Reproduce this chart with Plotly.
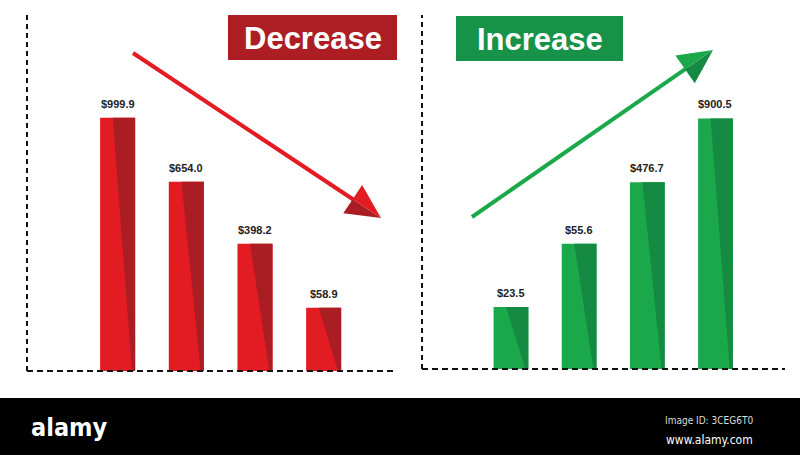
import plotly.graph_objects as go

# bar heights as drawn (units of the illustration's grid) and the printed values
decrease_heights = [4.0, 2.99, 2.01, 1.0]
decrease_labels = ["$999.9", "$654.0", "$398.2", "$58.9"]
increase_heights = [0.99, 2.0, 2.98, 4.0]
increase_labels = ["$23.5", "$55.6", "$476.7", "$900.5"]

red_light = "#E31B23"
red_dark = "#AA1D23"
green_light = "#1BA84A"
green_dark = "#158A42"

W, H = 800, 455
BAR_W = 0.51


def px(x):
    return x / W


def py(y):
    return 1 - y / H


def shade_trace(heights, color, xa, ya):
    # darker diagonal slice on the right side of each bar
    xs, ys = [], []
    for i, h in enumerate(heights):
        c = i + 1
        left = c - BAR_W / 2
        right = c + BAR_W / 2
        xs += [left + 0.36 * BAR_W, right, right, left + 0.91 * BAR_W, left + 0.36 * BAR_W, None]
        ys += [h, h, 0, 0, h, None]
    return go.Scatter(x=xs, y=ys, fill="toself", fillcolor=color, mode="lines",
                      line=dict(width=0), hoverinfo="skip", showlegend=False,
                      xaxis=xa, yaxis=ya)


fig = go.Figure()

pos = list(range(1, len(decrease_heights) + 1))
fig.add_trace(go.Bar(x=pos, y=decrease_heights, width=BAR_W, marker_color=red_light,
                     marker_line_width=0, showlegend=False, xaxis="x", yaxis="y"))
fig.add_trace(shade_trace(decrease_heights, red_dark, "x", "y"))
fig.add_trace(go.Bar(x=pos, y=increase_heights, width=BAR_W, marker_color=green_light,
                     marker_line_width=0, showlegend=False, xaxis="x2", yaxis="y2"))
fig.add_trace(shade_trace(increase_heights, green_dark, "x2", "y2"))

label_font = dict(size=11, color="#222222", family="Liberation Sans, Arial")
annotations = []
for i, (h, t) in enumerate(zip(decrease_heights, decrease_labels)):
    annotations.append(dict(x=i + 1, y=h, xref="x", yref="y", text="<b>" + t + "</b>",
                            showarrow=False, xanchor="center", yanchor="bottom", yshift=6,
                            font=label_font))
for i, (h, t) in enumerate(zip(increase_heights, increase_labels)):
    annotations.append(dict(x=i + 1, y=h, xref="x2", yref="y2", text="<b>" + t + "</b>",
                            showarrow=False, xanchor="center", yanchor="bottom", yshift=6,
                            font=label_font))

shapes = []
# dashed axes
for xd, yd in [("x domain", "y domain"), ("x2 domain", "y2 domain")]:
    shapes.append(dict(type="line", xref=xd, yref=yd, x0=0, x1=0, y0=0, y1=1,
                       line=dict(color="#111111", width=2, dash="5px,4px")))
    shapes.append(dict(type="line", xref=xd, yref=yd, x0=0, x1=1, y0=0, y1=0,
                       line=dict(color="#111111", width=2, dash="6px,4px")))

# title boxes
shapes.append(dict(type="rect", xref="paper", yref="paper", x0=px(228), x1=px(397),
                   y0=py(60), y1=py(15), fillcolor="#AC1E24", line=dict(width=0)))
shapes.append(dict(type="rect", xref="paper", yref="paper", x0=px(456), x1=px(623),
                   y0=py(61), y1=py(16), fillcolor="#179249", line=dict(width=0)))
title_font = dict(size=31, color="white", family="Liberation Sans, Arial")
annotations.append(dict(x=px(313), y=py(38), xref="paper", yref="paper", text="<b>Decrease</b>",
                        showarrow=False, xanchor="center", yanchor="middle", font=title_font))
annotations.append(dict(x=px(540), y=py(39), xref="paper", yref="paper", text="<b>Increase</b>",
                        showarrow=False, xanchor="center", yanchor="middle", font=title_font))


def arrow(x0, y0, tip_x, tip_y, light, dark, head=34, half=17):
    dx, dy = tip_x - x0, tip_y - y0
    L = (dx * dx + dy * dy) ** 0.5
    ux, uy = dx / L, dy / L
    bx, by = tip_x - head * ux, tip_y - head * uy
    nx, ny = -uy, ux
    c1 = (bx + half * nx, by + half * ny)
    c2 = (bx - half * nx, by - half * ny)
    out = [dict(type="line", xref="paper", yref="paper", x0=px(x0), y0=py(y0),
                x1=px(bx + 2 * ux), y1=py(by + 2 * uy), line=dict(color=light, width=4))]

    def tri(a, b, col):
        path = "M {},{} L {},{} L {},{} Z".format(px(tip_x), py(tip_y), px(a[0]), py(a[1]),
                                                 px(b[0]), py(b[1]))
        return dict(type="path", xref="paper", yref="paper", path=path, fillcolor=col,
                    line=dict(width=0))
    out.append(tri(c1, (bx, by), dark))
    out.append(tri(c2, (bx, by), light))
    return out


shapes += arrow(133, 53, 381, 218, red_light, red_dark)
shapes += arrow(472, 217, 713, 50, green_light, green_dark)

# black footer band
shapes.append(dict(type="rect", xref="paper", yref="paper", x0=0, x1=1, y0=0, y1=py(398),
                   fillcolor="black", line=dict(width=0), layer="above"))
annotations.append(dict(x=px(29), y=py(427), xref="paper", yref="paper", text="<b>alamy</b>",
                        showarrow=False, xanchor="left", yanchor="middle",
                        font=dict(size=25, color="white",
                                  family="DejaVu Sans Condensed, Liberation Sans Narrow, Liberation Sans")))
annotations.append(dict(x=px(755), y=py(420), xref="paper", yref="paper", text="Image ID: 3CEG6T0",
                        showarrow=False, xanchor="right", yanchor="middle",
                        font=dict(size=10, color="#DDDDDD", family="DejaVu Sans Condensed, Liberation Sans")))
annotations.append(dict(x=px(755), y=py(440), xref="paper", yref="paper", text="www.alamy.com",
                        showarrow=False, xanchor="right", yanchor="middle",
                        font=dict(size=12, color="white", family="DejaVu Sans Condensed, Liberation Sans")))

ax = dict(showgrid=False, zeroline=False, showticklabels=False, showline=False, fixedrange=True)
fig.update_layout(
    width=W, height=H,
    margin=dict(l=0, r=0, t=0, b=0),
    paper_bgcolor="white", plot_bgcolor="white",
    showlegend=False,
    xaxis=dict(ax, domain=[px(27), px(393)], range=[-0.32, 5.01]),
    yaxis=dict(ax, domain=[py(371), py(14)], range=[0, 5.64]),
    xaxis2=dict(ax, domain=[px(422), px(785)], range=[-0.305, 5.02], anchor="y2"),
    yaxis2=dict(ax, domain=[py(369), py(15)], range=[0, 5.65], anchor="x2"),
    shapes=shapes,
    annotations=annotations,
)

fig.write_html("out.html", config={"displayModeBar": False},
               post_script="document.body.style.margin='0';document.body.style.overflow='hidden';")
